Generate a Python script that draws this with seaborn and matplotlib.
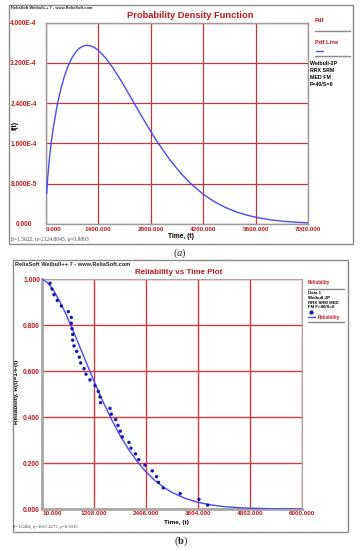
import matplotlib
matplotlib.use("Agg")
import matplotlib.pyplot as plt
import seaborn as sns
import pandas as pd
from matplotlib.patches import Rectangle
from matplotlib.lines import Line2D

# ---------------- (a) Probability density function ----------------
pdf_time = [25, 50, 100, 150, 200, 300, 400, 500, 600, 700, 800, 900, 1000,
            1100, 1200, 1300, 1400, 1600, 1800, 2000, 2200, 2400, 2600, 2800,
            3000, 3300, 3600, 3900, 4200, 4500, 4800, 5100, 5400, 5700, 6000,
            6300, 6600, 7000]
pdf_value = [6.05e-5, 8.91e-5, 1.308e-4, 1.630e-4, 1.899e-4, 2.334e-4, 2.671e-4,
             2.937e-4, 3.144e-4, 3.301e-4, 3.416e-4, 3.493e-4, 3.537e-4,
             3.551e-4, 3.540e-4, 3.507e-4, 3.453e-4, 3.299e-4, 3.096e-4,
             2.861e-4, 2.608e-4, 2.349e-4, 2.092e-4, 1.843e-4, 1.608e-4,
             1.288e-4, 1.013e-4, 7.82e-5, 5.94e-5, 4.44e-5, 3.27e-5, 2.37e-5,
             1.70e-5, 1.20e-5, 8.4e-6, 5.7e-6, 3.9e-6, 2.3e-6]
pdf_xticks = [0, 1400, 2800, 4200, 5600, 7000]
pdf_xticklabels = ["0.000", "1400.000", "2800.000", "4200.000", "5600.000", "7000.000"]
pdf_yticks = [0, 8e-5, 1.6e-4, 2.4e-4, 3.2e-4, 4e-4]
pdf_yticklabels = ["0.000", "8.000E-5", "1.600E-4", "2.400E-4", "3.200E-4", "4.000E-4"]

# ---------------- (b) Reliability vs time ----------------
rel_data_time = [188, 234, 280, 356, 449, 610, 680, 680, 696, 712, 712, 742,
                 804, 864, 897, 973, 1019, 1111, 1227, 1303, 1342, 1354, 1573,
                 1603, 1705, 1758, 1811, 1857, 2010, 2057, 2162, 2236, 2381,
                 2550, 2647, 2693, 2802, 3194, 3628, 3829]
rel_data_R = [0.983, 0.958, 0.933, 0.908, 0.884, 0.859, 0.834, 0.809, 0.785,
              0.760, 0.735, 0.710, 0.686, 0.661, 0.636, 0.611, 0.587, 0.562,
              0.537, 0.512, 0.488, 0.463, 0.438, 0.413, 0.389, 0.364, 0.339,
              0.314, 0.290, 0.265, 0.240, 0.215, 0.191, 0.166, 0.141, 0.116,
              0.092, 0.067, 0.042, 0.017]
rel_line_time = [10, 100, 200, 300, 400, 500, 600, 800, 1000, 1200, 1400, 1600,
                 1800, 2000, 2200, 2400, 2600, 2800, 3000, 3300, 3600, 3900,
                 4200, 4500, 4800, 5200, 5600, 6000]
rel_line_R = [0.9998, 0.9902, 0.9696, 0.9418, 0.9083, 0.8705, 0.8294, 0.7410,
              0.6491, 0.5583, 0.4721, 0.3928, 0.3218, 0.2599, 0.2069, 0.1625,
              0.1259, 0.0963, 0.0727, 0.0467, 0.0292, 0.0178, 0.0106, 0.0061,
              0.0035, 0.0016, 0.0007, 0.0003]
rel_xticks = [10, 1208, 2406, 3604, 4802, 6000]
rel_xticklabels = ["10.000", "1208.000", "2406.000", "3604.000", "4802.000", "6000.000"]
rel_yticks = [0, 0.2, 0.4, 0.6, 0.8, 1.0]
rel_yticklabels = ["0.000", "0.200", "0.400", "0.600", "0.800", "1.000"]

sns.set_theme(style="white")
plt.rcParams["font.family"] = ["Liberation Sans", "DejaVu Sans"]
plt.rcParams["mathtext.fontset"] = "custom"
plt.rcParams["mathtext.rm"] = "Liberation Serif"
plt.rcParams["mathtext.it"] = "Liberation Serif:italic"
plt.rcParams["mathtext.bf"] = "Liberation Serif:bold"

W, H = 361, 550
RED = "#bb1a1a"
GRID_A = "#b83a3a"
GRID_B = "#d23c3c"
BLUE = "#4a4af0"
DOT = "#1515b8"
SERIF = ["Liberation Serif", "DejaVu Serif"]


def fx(x):
    return x / W


def fy(y):
    return 1 - y / H


fig = plt.figure(figsize=(W / 100, H / 100), dpi=100)
fig.patch.set_facecolor("white")

# outer frames
fig.add_artist(Rectangle((fx(9), fy(244)), (352.5 - 9) / W, (244 - 5) / H,
                         transform=fig.transFigure, fill=False, ec="#8c8c8c", lw=1.0))
fig.add_artist(Rectangle((fx(13.3), fy(531.7)), (347.7 - 13.3) / W, (531.7 - 260) / H,
                         transform=fig.transFigure, fill=False, ec="#8c8c8c", lw=1.0))

axA = fig.add_axes([fx(45.7), fy(224), (308 - 45.7) / W, (224 - 22.7) / H])
axB = fig.add_axes([fx(42.3), fy(509), (301.7 - 42.3) / W, (509 - 279.3) / H])

# ---- panel (a) ----
dfa = pd.DataFrame({"t": pdf_time, "f": pdf_value})
sns.lineplot(data=dfa, x="t", y="f", ax=axA, color=BLUE, lw=1.0, zorder=3)
axA.set_xlim(0, 7000)
axA.set_ylim(0, 4e-4)
axA.set_xticks(pdf_xticks)
axA.set_xticklabels(pdf_xticklabels, fontsize=4.6, fontweight="bold", color=RED)
axA.set_yticks(pdf_yticks)
axA.set_yticklabels(pdf_yticklabels, fontsize=4.7, fontweight="bold", color=RED, ha="center")
axA.tick_params(axis="both", length=0)
axA.tick_params(axis="x", pad=2.0)
axA.tick_params(axis="y", pad=16)
axA.xaxis.get_majorticklabels()[0].set_ha("left")
axA.grid(True, color=GRID_A, lw=0.9)
axA.set_axisbelow(True)
for s in axA.spines.values():
    s.set_color("#9a9a9a")
    s.set_linewidth(1.0)
axA.set_xlabel("Time, (t)", fontsize=4.8, fontweight="bold", color="black")
axA.xaxis.label.set_va("center")
axA.xaxis.set_label_coords((180.5 - 45.7) / 262.3, (224 - 236.3) / 201.3)
axA.set_ylabel("f(t)", fontsize=4.8, fontweight="bold", color="black")
axA.yaxis.label.set_va("center")
axA.yaxis.set_label_coords((15.7 - 45.7) / 262.3, (224 - 126) / 201.3)
axA.set_title("Probability Density Function", fontsize=6.7, fontweight="bold", color=RED,
              x=(190 - 45.7) / 262.3, y=(224 - 16) / 201.3, va="center", pad=0)

# ---- panel (b) ----
dfl = pd.DataFrame({"t": rel_line_time, "R": rel_line_R})
dfp = pd.DataFrame({"t": rel_data_time, "R": rel_data_R})
sns.lineplot(data=dfl, x="t", y="R", ax=axB, color=BLUE, lw=1.0, zorder=3)
sns.scatterplot(data=dfp, x="t", y="R", ax=axB, color=DOT, s=6, edgecolor="none", zorder=4)
axB.set_xlim(10, 6000)
axB.set_ylim(0, 1)
axB.set_xticks(rel_xticks)
axB.set_xticklabels(rel_xticklabels, fontsize=4.6, fontweight="bold", color=RED)
axB.set_yticks(rel_yticks)
axB.set_yticklabels(rel_yticklabels, fontsize=4.9, fontweight="bold", color=RED)
axB.tick_params(axis="both", length=0)
axB.tick_params(axis="x", pad=1.5)
axB.tick_params(axis="y", pad=1.6)
axB.xaxis.get_majorticklabels()[0].set_ha("left")
axB.grid(True, color=GRID_B, lw=1.0)
axB.set_axisbelow(True)
for name, s in axB.spines.items():
    s.set_color("#a8a8a8")
    s.set_linewidth(2.0 if name in ("left", "bottom") else 0.8)
axB.set_xlabel("Time, (t)", fontsize=4.6, fontweight="bold", color="black")
axB.xaxis.label.set_va("center")
axB.xaxis.set_label_coords((176 - 42.3) / 259.4, (509 - 522.3) / 229.7)
axB.set_ylabel("Reliability, R(t)=1-F(t)", fontsize=4.6, fontweight="bold", color="black")
axB.yaxis.label.set_va("center")
axB.yaxis.set_label_coords((16.7 - 42.3) / 259.4, (509 - 392) / 229.7)
axB.set_title("Reliability vs Time Plot", fontsize=5.8, fontweight="bold", color=RED,
              x=(179 - 42.3) / 259.4, y=(509 - 272.7) / 229.7, va="center", pad=0)

# ---- headers / footers / captions ----
hdr = "ReliaSoft Weibull++ 7 - www.ReliaSoft.com"
fig.text(fx(11), fy(8.3), hdr, fontsize=2.9, fontweight="bold", va="center", color="#222222")
fig.text(fx(15), fy(264.3), hdr, fontsize=4.1, fontweight="bold", va="center", color="#222222")
fig.text(fx(11), fy(239), "β=1.5622, η=2124.8045, ρ=0.9893", family=SERIF,
         fontsize=4.0, va="center", color="#444444")
fig.text(fx(13.5), fy(526.7), "β=1.6404, η=1667.4272, ρ=0.9919", family=SERIF,
         fontsize=3.3, va="center", color="#444444")
fig.text(fx(180), fy(253.5), r"($\mathit{a}$)", family=SERIF, fontsize=7.6,
         ha="center", va="center", color="#222222")
fig.text(fx(181), fy(541), r"($\mathbf{b}$)", family=SERIF, fontsize=7.6,
         ha="center", va="center", color="#222222")


def hline(x0, x1, y, color="#8a8a8a", lw=1.0):
    fig.add_artist(Line2D([fx(x0), fx(x1)], [fy(y), fy(y)], color=color, lw=lw,
                          transform=fig.transFigure))


# ---- legend (a) ----
fig.text(fx(315), fy(21), "Pdf", fontsize=4.2, fontweight="bold", color=RED, va="center")
hline(315, 350, 30.7)
fig.text(fx(315), fy(42), "Pdf Line", fontsize=4.2, fontweight="bold", color=RED, va="center")
hline(316, 322.5, 51.3, color=BLUE, lw=1.0)
hline(315, 350, 55.7)
for i, txt in enumerate(["Weibull-2P", "RRX SRM", "MED FM", "F=40/S=0"]):
    fig.text(fx(310), fy(63.3 + i * 7.0), txt, fontsize=3.8, fontweight="bold",
             color="black", va="center")

# ---- legend (b) ----
fig.text(fx(308), fy(282.7), "Reliability", fontsize=3.3, fontweight="bold", color=RED, va="center")
hline(308, 344, 289)
for i, txt in enumerate(["Data 1", "Weibull-2P", "RRX SRM MED", "FM F=40/S=0"]):
    fig.text(fx(308), fy(293.3 + i * 4.67), txt, fontsize=3.2, fontweight="bold",
             color="black", va="center")
fig.add_artist(Line2D([fx(311)], [fy(312.3)], marker="o", ms=2.0, color=DOT, lw=0,
                      transform=fig.transFigure))
hline(308, 315, 317.3, color=BLUE, lw=1.0)
fig.text(fx(318), fy(317.3), "Reliability", fontsize=3.3, fontweight="bold", color=RED, va="center")
hline(308, 344, 321.7)

fig.savefig("out.png", dpi=100, facecolor="white")
